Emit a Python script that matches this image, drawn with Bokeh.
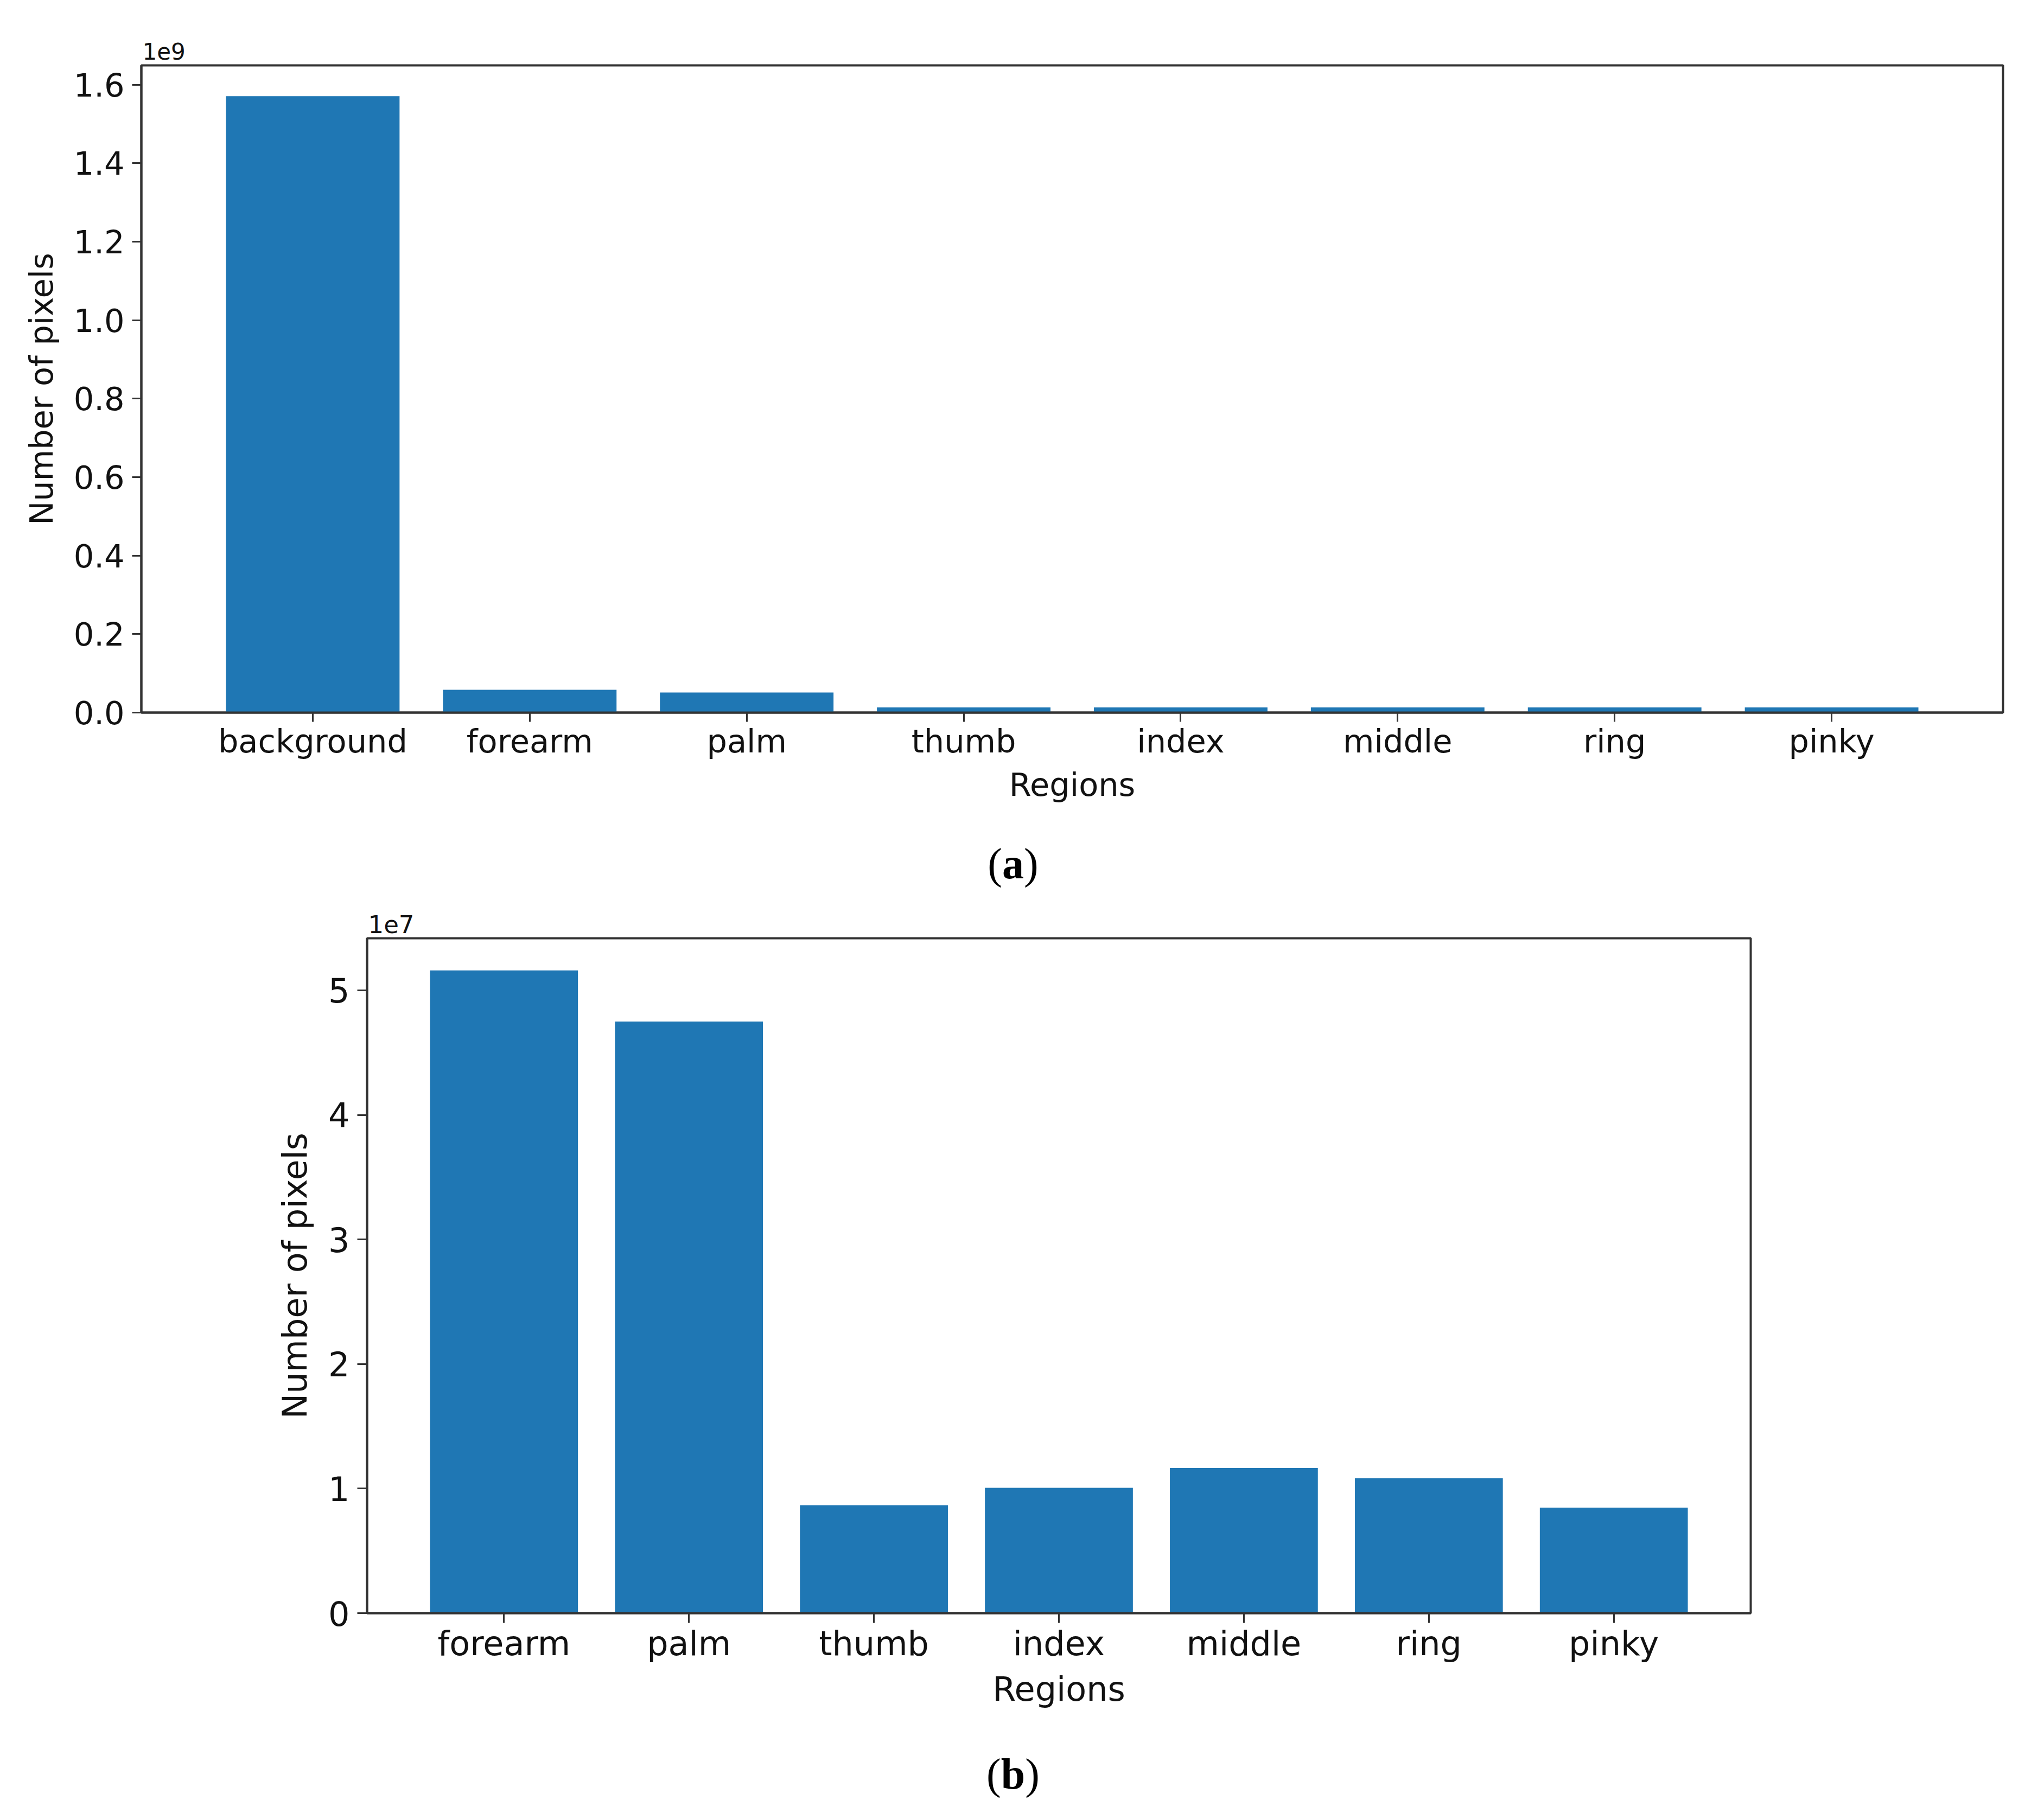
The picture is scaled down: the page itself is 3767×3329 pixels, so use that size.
from bokeh.plotting import figure
from bokeh.models import FactorRange, Range1d, FixedTicker, CustomJSTickFormatter, Div, Spacer
from bokeh.layouts import column, row
from bokeh.embed import file_html
from bokeh.resources import INLINE

# ---- data ----
regions_a = ["background", "forearm", "palm", "thumb", "index", "middle", "ring", "pinky"]
pixels_a = [1.571e9, 5.8e7, 5.1e7, 1.3e7, 1.3e7, 1.3e7, 1.3e7, 1.3e7]
yticks_a = [0.0, 0.2e9, 0.4e9, 0.6e9, 0.8e9, 1.0e9, 1.2e9, 1.4e9, 1.6e9]

regions_b = ["forearm", "palm", "thumb", "index", "middle", "ring", "pinky"]
pixels_b = [5.16e7, 4.75e7, 0.867e7, 1.006e7, 1.165e7, 1.083e7, 0.847e7]
yticks_b = [0, 1e7, 2e7, 3e7, 4e7, 5e7]

BAR = "#1f77b4"
LINE = "#333333"
FONT = "DejaVu Sans"


def make_panel(cats, vals, ticks, fmt_code, offset_txt, fs, offset_fs, fw, fh,
               bl, br, bt, bb, pad, lw, title_standoff):
    p = figure(x_range=FactorRange(factors=cats, range_padding=pad),
               y_range=Range1d(0, max(vals) * 1.05),
               frame_width=fw, frame_height=fh,
               min_border_left=bl, min_border_right=br,
               min_border_top=bt, min_border_bottom=bb,
               output_backend="svg", toolbar_location=None,
               background_fill_color="white", border_fill_color="white")
    p.vbar(x=cats, top=vals, bottom=0, width=0.8, fill_color=BAR, line_color=None)
    p.xgrid.visible = False
    p.ygrid.visible = False
    p.outline_line_color = LINE
    p.outline_line_width = lw
    p.outline_line_alpha = 1.0

    p.yaxis.ticker = FixedTicker(ticks=ticks)
    p.yaxis.formatter = CustomJSTickFormatter(code=fmt_code)
    p.yaxis.minor_tick_line_color = None
    p.xaxis.axis_label = "Regions"
    p.yaxis.axis_label = "Number of pixels"
    for ax in (p.xaxis[0], p.yaxis[0]):
        ax.axis_line_color = LINE
        ax.axis_line_width = lw
        ax.major_tick_line_color = LINE
        ax.major_tick_line_width = 3
        ax.major_tick_in = 0
        ax.major_tick_out = int(fs * 0.3)
        ax.major_label_text_font = FONT
        ax.major_label_text_font_size = f"{fs}px"
        ax.major_label_text_color = "#111111"
        ax.axis_label_text_font = FONT
        ax.axis_label_text_font_size = f"{fs}px"
        ax.axis_label_text_font_style = "normal"
        ax.axis_label_text_color = "#111111"
    p.xaxis.major_label_standoff = 1
    p.yaxis.major_label_standoff = 14
    p.xaxis.axis_label_standoff = 8
    p.yaxis.axis_label_standoff = 22
    p.xaxis.major_label_orientation = "horizontal"

    p.title.text = offset_txt
    p.title.align = "left"
    p.title.text_font = FONT
    p.title.text_font_size = f"{offset_fs}px"
    p.title.text_font_style = "normal"
    p.title.text_color = "#111111"
    p.title.standoff = title_standoff
    p.title.offset = 2
    return p


# panel (a): frame 3431 wide starting 260 px into its canvas
pa = make_panel(regions_a, pixels_a, yticks_a, "return (tick/1e9).toFixed(1);", "1e9",
                59, 42, 3431, 1193, 260, 60, 120, 229, 0.0725, 4, 22)
# panel (b): same side borders, shifted right with spacers
pb = make_panel(regions_b, pixels_b, yticks_b, "return (tick/1e7).toFixed(0);", "1e7",
                62, 45, 2550, 1244, 260, 60, 90, 247, 0.0686, 4, 20)

cap_style = {"font-family": "'Liberation Serif', serif", "font-size": "80px",
             "color": "black", "text-align": "center", "line-height": "normal"}
da = Div(text="(<b>a</b>)", width=3724, height=87, styles=cap_style)
db = Div(text="(<b>b</b>)", width=3724, height=95, styles=cap_style)

row_b = row(Spacer(width=416, height=10), pb, Spacer(width=465, height=10), spacing=0)
layout = column(pa, da, row_b, db, spacing=0)

open("out.html", "w").write(file_html(layout, INLINE))
